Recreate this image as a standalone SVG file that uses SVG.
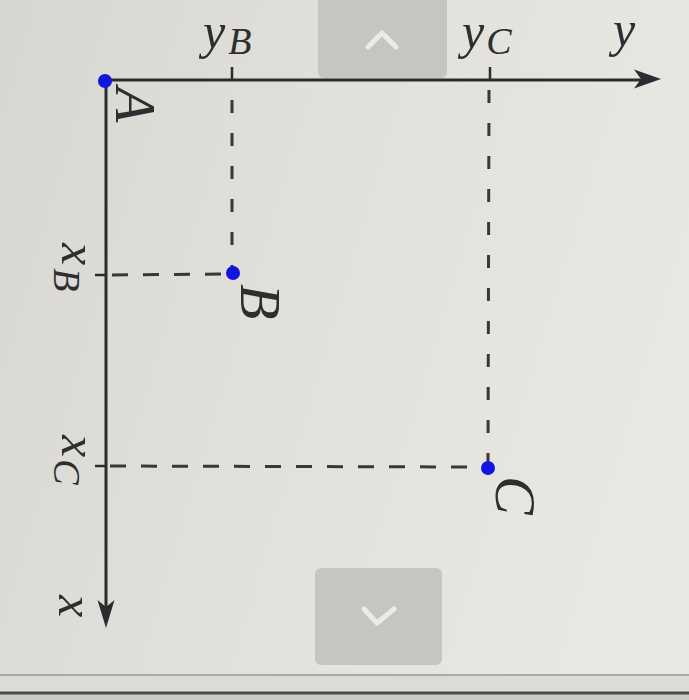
<svg xmlns="http://www.w3.org/2000/svg" width="689" height="700" viewBox="0 0 689 700">
  <defs>
    <linearGradient id="bg" x1="0" y1="0" x2="1" y2="0.3">
      <stop offset="0" stop-color="#d8d6d0"/>
      <stop offset="0.5" stop-color="#e1e0da"/>
      <stop offset="1" stop-color="#e8e7e3"/>
    </linearGradient>
    <style>
      .axis { stroke: #2b2b30; stroke-width: 3; fill: none; }
      .tick { stroke: #2b2b30; stroke-width: 2.5; fill: none; }
      .dash-v { stroke: #38383c; stroke-width: 3; fill: none; stroke-dasharray: 13 20; }
      .dash-h { stroke: #38383c; stroke-width: 3; fill: none; stroke-dasharray: 16 15; }
      .head { fill: #2b2b30; }
      .dot { fill: #1414e0; }
      .lbl { font-family: "Liberation Serif", "DejaVu Serif", serif; font-style: italic; fill: #2e2e30; }
      .ax { font-size: 50px; }
      .sub { font-size: 38px; }
      .pt { font-size: 58px; }
      .btn { fill: #c5c5c2; }
      .chev { stroke: #ecebe7; stroke-width: 5; fill: none; stroke-linecap: round; stroke-linejoin: round; }
    </style>
  </defs>

  <rect x="0" y="0" width="689" height="700" fill="url(#bg)"/>

  <!-- UI scroll buttons -->
  <g id="button-up">
    <rect class="btn" x="318" y="-10" width="129" height="88" rx="6"/>
    <polyline class="chev" points="368,47 382,33 396,47"/>
  </g>
  <g id="button-down">
    <rect class="btn" x="315" y="568" width="127" height="97" rx="6"/>
    <polyline class="chev" points="364,609 377,623 394,609"/>
  </g>

  <!-- bottom frame -->
  <g id="frame">
    <rect x="0" y="676" width="689" height="17" fill="#dcdbd6"/>
    <line x1="0" y1="675" x2="689" y2="675" stroke="#a9a9a6" stroke-width="2"/>
    <rect x="0" y="693" width="689" height="7" fill="#c9c9c5"/>
    <line x1="0" y1="693" x2="689" y2="693" stroke="#4a4a4d" stroke-width="3"/>
  </g>

  <!-- connectors: axes, ticks, dashed guides -->
  <g id="connectors">
    <line class="axis" x1="106" y1="80" x2="645" y2="80"/>
    <path class="head" d="M661,79 L634,69.5 L641,79 L634,88.5 Z"/>
    <line class="axis" x1="106" y1="80" x2="106" y2="612"/>
    <path class="head" d="M106,628 L97.5,600 L106,607 L114.5,600 Z"/>

    <line class="tick" x1="232" y1="67" x2="232" y2="80"/>
    <line class="tick" x1="490" y1="67" x2="490" y2="80"/>
    <line class="tick" x1="95" y1="275" x2="106" y2="275"/>
    <line class="tick" x1="95" y1="466" x2="106" y2="466"/>

    <line class="dash-v" x1="232" y1="100" x2="232" y2="268"/>
    <line class="dash-v" x1="489" y1="90" x2="488" y2="461"/>
    <line class="dash-h" x1="112" y1="275" x2="227" y2="274"/>
    <line class="dash-h" x1="110" y1="466" x2="481" y2="467"/>
  </g>

  <!-- axis labels -->
  <g id="label-yB">
    <text class="lbl ax" x="203" y="48">y<tspan class="sub" dx="3" dy="6">B</tspan></text>
  </g>
  <g id="label-yC">
    <text class="lbl ax" x="462" y="48">y<tspan class="sub" dx="2" dy="6">C</tspan></text>
  </g>
  <g id="label-y">
    <text class="lbl ax" x="613" y="46">y</text>
  </g>
  <g id="label-xB">
    <text class="lbl ax" transform="translate(62,243) rotate(90)">x<tspan class="sub" dx="3" dy="8">B</tspan></text>
  </g>
  <g id="label-xC">
    <text class="lbl ax" transform="translate(62,435) rotate(90)">x<tspan class="sub" dx="2" dy="8">C</tspan></text>
  </g>
  <g id="label-x">
    <text class="lbl ax" transform="translate(59,595) rotate(90)">x</text>
  </g>

  <!-- points -->
  <g id="node-A">
    <circle class="dot" cx="105" cy="81" r="7"/>
    <text class="lbl pt" transform="translate(116,87) rotate(90)">A</text>
  </g>
  <g id="node-B">
    <circle class="dot" cx="233" cy="273" r="7"/>
    <text class="lbl pt" transform="translate(241,284) rotate(90)">B</text>
  </g>
  <g id="node-C">
    <circle class="dot" cx="488" cy="468" r="7"/>
    <text class="lbl pt" transform="translate(496,476) rotate(90)">C</text>
  </g>
</svg>
